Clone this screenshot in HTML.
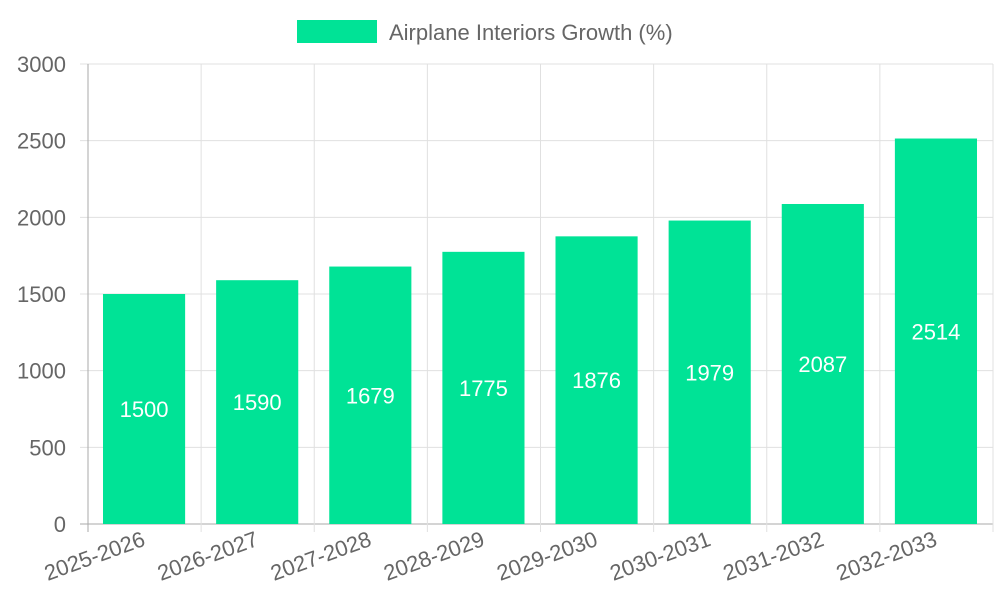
<!DOCTYPE html>
<html><head><meta charset="utf-8"><style>body{margin:0;background:#fff}svg{display:block;font-family:"Liberation Sans",sans-serif}</style></head>
<body>
<svg id="c" width="1000" height="600">
<g>
<rect x="297" y="20" width="80" height="23" fill="#00e396"/>
<text x="389" y="40" font-size="22" fill="#666">Airplane Interiors Growth (%)</text>
</g>
</svg>
<script>
const categories=["2025-2026","2026-2027","2027-2028","2028-2029","2029-2030","2030-2031","2031-2032","2032-2033"];
const values=[1500,1590,1679,1775,1876,1979,2087,2514];
const yTicks=[0,500,1000,1500,2000,2500,3000];
const svg=document.getElementById('c');const NS='http://www.w3.org/2000/svg';
const L=88,R=993,T=64,B=524,yMax=3000;
const bw=(R-L)/categories.length;
const y=v=>B-(v/yMax)*(B-T);
const x=i=>L+i*bw;
function mk(t,a,p){const e=document.createElementNS(NS,t);for(const k in a)e.setAttribute(k,a[k]);(p||svg).appendChild(e);return e;}
yTicks.forEach(v=>{
 const g=mk('line',{x1:L-8,x2:R,y1:y(v),y2:y(v),stroke:v===0?'#aaa':'#e0e0e0','stroke-width':1});
 
 
 const t=mk('text',{x:66,y:y(v)+8,'text-anchor':'end','font-size':22,fill:'#666'});t.textContent=v;
 
 
});
for(let i=0;i<=categories.length;i++){
 const g=mk('line',{x1:x(i),x2:x(i),y1:T,y2:B+8,stroke:i===0?'#aaa':'#e0e0e0','stroke-width':1});
 
 
}
categories.forEach((c,i)=>{
 const bx=x(i)+15,w=bw-31;
 const r=mk('rect',{x:bx,y:y(values[i]),width:w,height:B-y(values[i]),fill:'#00e396'});
 
 
 const t=mk('text',{x:bx+w/2,y:(y(values[i])+B)/2+8,'text-anchor':'middle','font-size':22,fill:'#fff'});t.textContent=values[i];
 
 
 const cx=x(i)+bw/2+2;
 const l=mk('text',{x:cx,y:545,'text-anchor':'end','font-size':22,fill:'#666',transform:`rotate(-20 ${cx} 545)`});l.textContent=c;
 
 
});
</script>
</body></html>
